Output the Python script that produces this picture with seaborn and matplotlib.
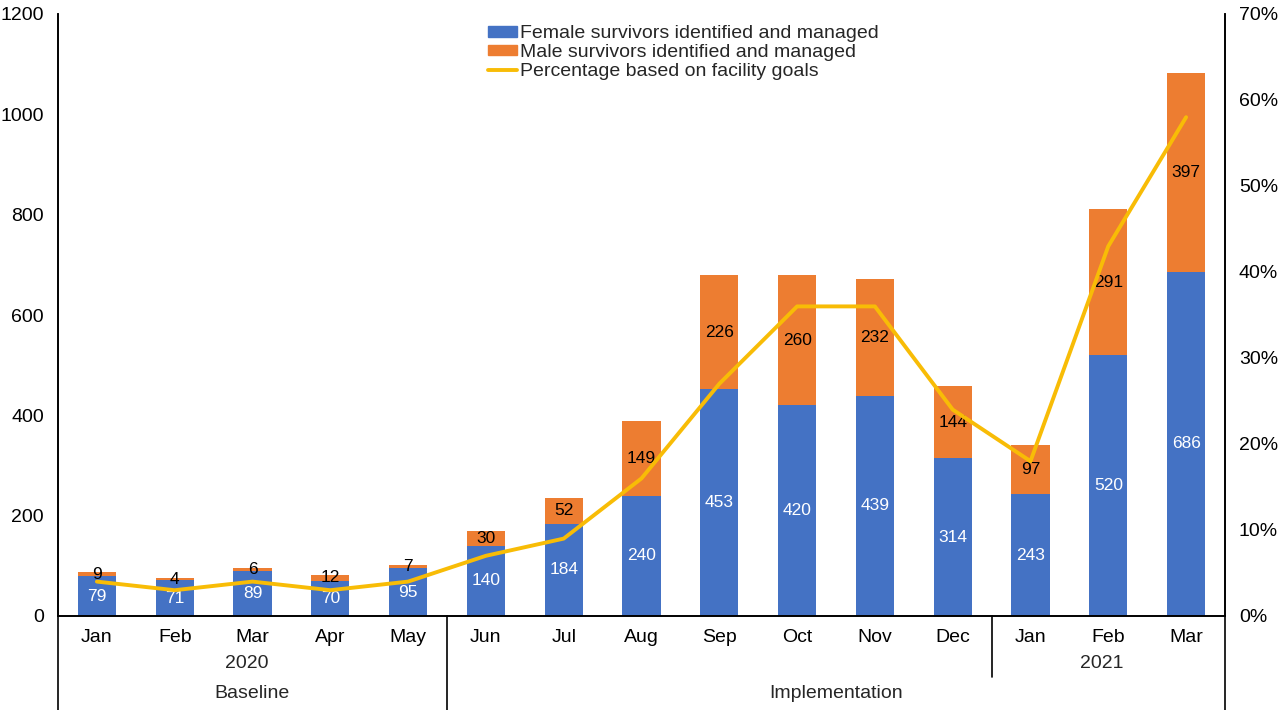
#!/usr/bin/env python3
"""
Stacked bar + line chart: survivors identified and managed by month,
with percentage based on facility goals on a secondary axis.
"""

import numpy as np
import pandas as pd
import matplotlib.pyplot as plt
import matplotlib.transforms as mtransforms
import seaborn as sns
from matplotlib.patches import Patch
from matplotlib.lines import Line2D
from matplotlib.ticker import PercentFormatter

sns.set_theme(style="white")
plt.rcParams['font.family'] = ['Liberation Sans', 'DejaVu Sans']

# Data
months = ["Jan", "Feb", "Mar", "Apr", "May", "Jun", "Jul", "Aug",
          "Sep", "Oct", "Nov", "Dec", "Jan", "Feb", "Mar"]
female = [79, 71, 89, 70, 95, 140, 184, 240, 453, 420, 439, 314, 243, 520, 686]
male = [9, 4, 6, 12, 7, 30, 52, 149, 226, 260, 232, 144, 97, 291, 397]
pct_goal = [4, 3, 4, 3, 4, 7, 9, 16, 27, 36, 36, 24, 18, 43, 58]

# Grouping rows under the month labels: (label, first index, last index)
year_groups = [("2020", 0, 4), ("", 5, 11), ("2021", 12, 14)]
phase_groups = [("Baseline", 0, 4), ("Implementation", 5, 14)]

BLUE = "#4472C4"
ORANGE = "#ED7D31"
YELLOW = "#F8BC06"

df = pd.DataFrame({"pos": np.arange(len(months)), "female": female,
                   "male": male, "pct": pct_goal})
df["total"] = df["female"] + df["male"]

fig = plt.figure(figsize=(12.8, 7.1), dpi=100)
ax = fig.add_axes([58 / 1280, 1 - 616 / 710, (1225 - 58) / 1280, (616 - 14) / 710])

# Stacked bars: totals in orange, female drawn over them in blue
sns.barplot(data=df, x="pos", y="total", color=ORANGE, saturation=1,
            width=0.49, linewidth=0, ax=ax)
sns.barplot(data=df, x="pos", y="female", color=BLUE, saturation=1,
            width=0.49, linewidth=0, ax=ax)

for i, row in df.iterrows():
    ax.text(i, row["female"] / 2, str(row["female"]), color="white",
            ha="center", va="center", fontsize=12.5)
    ax.text(i, row["female"] + row["male"] / 2, str(row["male"]), color="black",
            ha="center", va="center", fontsize=12.5)

ax.set_xlim(-0.5, len(months) - 0.5)
ax.set_ylim(0, 1200)
ax.set_yticks(range(0, 1201, 200))
ax.set_xticks(range(len(months)))
ax.set_xticklabels(months)
ax.set_xlabel("")
ax.set_ylabel("")
ax.tick_params(axis="both", length=0, labelsize=14, colors="black")
ax.tick_params(axis="y", pad=10)
ax.tick_params(axis="x", pad=9)

# Secondary axis for the percentage line
ax2 = ax.twinx()
sns.lineplot(data=df, x="pos", y="pct", color=YELLOW, linewidth=2.8, ax=ax2)
ax2.set_ylim(0, 70)
ax2.set_yticks(range(0, 71, 10))
ax2.yaxis.set_major_formatter(PercentFormatter(decimals=0))
ax2.set_ylabel("")
ax2.set_xlabel("")
ax2.tick_params(axis="y", length=0, labelsize=14, pad=10, colors="black")
ax.set_xlim(-0.5, len(months) - 0.5)

for a in (ax, ax2):
    a.spines["top"].set_visible(False)
    for s in ("left", "right", "bottom"):
        a.spines[s].set_color("black")
        a.spines[s].set_linewidth(1.2)

# Multi-level category axis
trans = mtransforms.blended_transform_factory(ax.transData, ax.transAxes)
bottom_y = -(710 - 616) / 601
for x, y_end in [(-0.5, bottom_y), (4.5, bottom_y), (11.5, -(677 - 616) / 601),
                 (len(months) - 0.5, bottom_y)]:
    ax.plot([x, x], [0, y_end], transform=trans, clip_on=False,
            color="black", linewidth=1.2)

for label, a, b in year_groups:
    if label:
        ax.text((a + b) / 2 - 0.08, -(663 - 616) / 601, label, transform=trans,
                ha="center", va="center", fontsize=14)
for label, a, b in phase_groups:
    ax.text((a + b) / 2, -(693 - 616) / 601, label, transform=trans,
            ha="center", va="center", fontsize=14)

handles = [Patch(color=BLUE, label="Female survivors identified and managed"),
           Patch(color=ORANGE, label="Male survivors identified and managed"),
           Line2D([], [], color=YELLOW, linewidth=2.8,
                  label="Percentage based on facility goals")]
ax2.legend(handles=handles, loc="upper center", bbox_to_anchor=(0.536, 1.004),
           frameon=False, fontsize=14, labelspacing=0.1, handlelength=1.5,
           handleheight=0.45, handletextpad=0.15, borderpad=0.2)

fig.savefig("out.png", dpi=100)
